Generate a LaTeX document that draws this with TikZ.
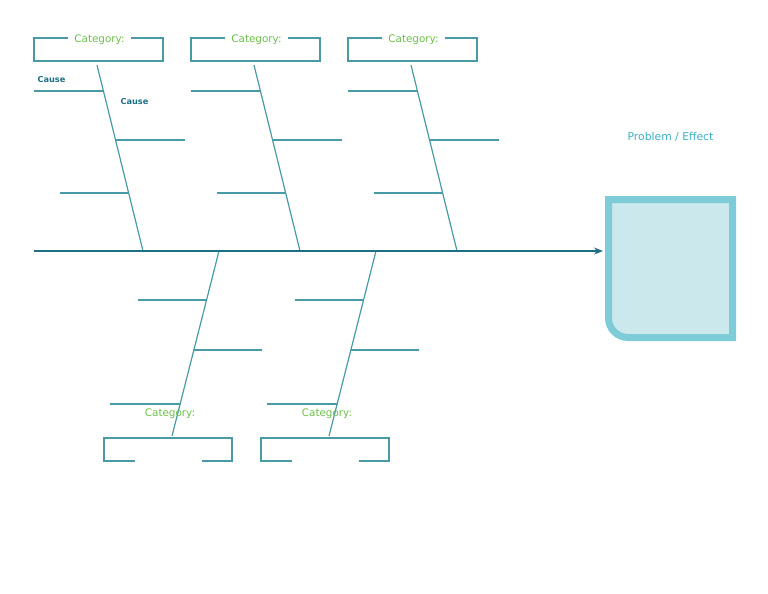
\documentclass[tikz,border=0pt]{standalone}
\usepackage{fontspec}
\setmainfont{DejaVu Sans}
\usetikzlibrary{arrows.meta}
\definecolor{bone}{HTML}{4A9AA5}
\definecolor{spinec}{HTML}{1F6F84}
\definecolor{catgreen}{HTML}{6DBF4B}
\definecolor{effborder}{HTML}{7DCCD8}
\definecolor{efffill}{HTML}{CBE8ED}
\definecolor{efftext}{HTML}{3AB0C8}
\tikzset{
  boneline/.style={draw=bone, line width=1.2pt},
  boxline/.style={draw=bone, line width=1.2pt},
  cattext/.style={text=catgreen, font=\fontsize{10.4}{12}\selectfont, inner xsep=6pt, inner ysep=2pt},
  causetext/.style={text=spinec, font=\bfseries\fontsize{8.2}{9}\selectfont, inner sep=0pt},
}
\begin{document}
\begin{tikzpicture}[x=1pt,y=-1pt]
\useasboundingbox (0,0) rectangle (768,594);

% top category boxes
\foreach \i/\dx in {1/0,2/157,3/314}{
  \draw[boxline] (34+\dx,38) rectangle (163+\dx,61);
  \node[cattext, fill=white] (cat\i) at (99.5+\dx,39.5) {Category:};
  \coordinate (ts\i) at (97+\dx,65);
  \coordinate (te\i) at (143+\dx,251);
  \draw[boneline] (ts\i) -- (te\i);
  \coordinate (a\i) at (34+\dx,91);
  \coordinate (ab\i) at (103.4+\dx,91);
  \coordinate (b\i) at (185+\dx,140);
  \coordinate (bb\i) at (115.5+\dx,140);
  \coordinate (c\i) at (60+\dx,193);
  \coordinate (cb\i) at (128.7+\dx,193);
  \draw[boneline] (a\i) -- (ab\i);
  \draw[boneline] (bb\i) -- (b\i);
  \draw[boneline] (c\i) -- (cb\i);
}

% bottom bones and boxes
\foreach \i/\dx in {4/0,5/157}{
  \coordinate (bs\i) at (219+\dx,251);
  \coordinate (be\i) at (172+\dx,436);
  \draw[boneline] (bs\i) -- (be\i);
  \coordinate (d\i) at (138+\dx,300);
  \coordinate (db\i) at (206.5+\dx,300);
  \coordinate (e\i) at (262+\dx,350);
  \coordinate (eb\i) at (193.8+\dx,350);
  \coordinate (f\i) at (110+\dx,404);
  \coordinate (fb\i) at (180.1+\dx,404);
  \draw[boneline] (d\i) -- (db\i);
  \draw[boneline] (eb\i) -- (e\i);
  \draw[boneline] (f\i) -- (fb\i);
  \draw[boxline] (135+\dx,461) -- (104+\dx,461) -- (104+\dx,438) -- (232+\dx,438) -- (232+\dx,461) -- (202+\dx,461);
  \node[cattext, inner sep=0pt] (cat\i) at (170+\dx,413.5) {Category:};
}

% cause labels
\node[causetext] (cause1) at (51.5,79.5) {Cause};
\node[causetext] (cause2) at (134.5,101.5) {Cause};

% problem / effect box
\node[text=efftext, font=\fontsize{10.8}{12}\selectfont] (efftitle) at (670.5,137) {Problem / Effect};
\draw[draw=effborder, fill=efffill, line width=7pt]
  (608.5,199.5) -- (732.5,199.5) -- (732.5,337.5) -- (628,337.5)
  arc[start angle=90, end angle=180, radius=19.5] -- cycle;
\coordinate (effect) at (603,251);

% spine
\coordinate (spinestart) at (34,251);
\draw[draw=spinec, line width=1.6pt, -{Stealth[length=9pt,width=7pt]}] (spinestart) -- (effect);
\end{tikzpicture}
\end{document}
